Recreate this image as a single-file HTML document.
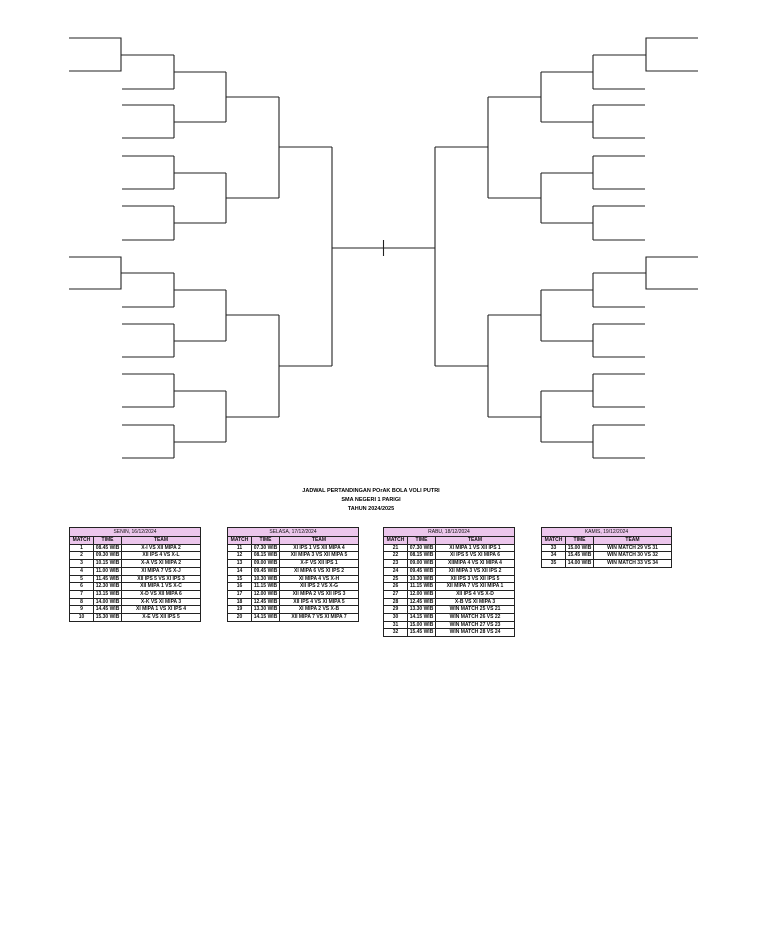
<!DOCTYPE html>
<html><head><meta charset="utf-8"><style>
html,body{margin:0;padding:0;background:#fff;width:768px;height:932px;overflow:hidden;position:relative;font-family:"Liberation Sans",sans-serif;}
svg{position:absolute;left:0;top:0}
.t{position:absolute;border-collapse:collapse;font-size:5px;color:#111;table-layout:fixed;font-weight:bold}
.t td{border:0.8px solid #222;padding:0;height:6.7px;line-height:6.7px;text-align:center;white-space:nowrap;overflow:hidden}
.t tr.h td{background:#ecc6ec;font-weight:bold}
.t tr.ti td{background:#ecc6ec;height:8px;line-height:8px;font-weight:normal}
.t td.tm{text-align:center}
.title{position:absolute;left:0;width:742px;text-align:center;font-size:5.5px;font-weight:bold;line-height:9px;top:487px}
</style></head><body>
<svg width="768" height="932" stroke="#222" stroke-width="1.1" fill="none">
<g id="L">
<path d="M69 38H121V71H69M121 55H174M122 89H174M122 105H174M122 138H174M122 156H174M122 189H174M122 206H174M122 240H174"/>
<path d="M174 55V89M174 105V138M174 156V189M174 206V240M174 72H226M174 122H226M174 173H226M174 223H226M226 72V122M226 173V223M226 97H279M226 198H279M279 97V198M279 147H332M332 147V366M332 248H383"/>
<path d="M69 257H121V289H69M121 273H174M122 307H174M122 324H174M122 357H174M122 374H174M122 407H174M122 425H174M122 458H174"/>
<path d="M174 273V307M174 324V357M174 374V407M174 425V458M174 290H226M174 341H226M174 391H226M174 442H226M226 290V341M226 391V442M226 315H279M226 417H279M279 315V417M279 366H332"/>
</g>
<use href="#L" transform="translate(767,0) scale(-1,1)"/>
<path d="M383.5 240V256"/>
</svg>
<div class="title">JADWAL PERTANDINGAN POrAK BOLA VOLI PUTRI<br>SMA NEGERI 1 PARIGI<br>TAHUN 2024/2025</div>

<table class="t" style="left:69px;top:527px;width:132px">
<colgroup><col style="width:24px"><col style="width:28px"><col></colgroup>
<tr class="ti"><td colspan="3">SENIN, 16/12/2024</td></tr>
<tr class="h"><td>MATCH</td><td>TIME</td><td>TEAM</td></tr>
<tr><td>1</td><td class="tm">08.45 WIB</td><td>X-I VS XII MIPA 2</td></tr>
<tr><td>2</td><td class="tm">09.30 WIB</td><td>XII IPS 4 VS X-L</td></tr>
<tr><td>3</td><td class="tm">10.15 WIB</td><td>X-A VS XI MIPA 2</td></tr>
<tr><td>4</td><td class="tm">11.00 WIB</td><td>XI MIPA 7 VS X-J</td></tr>
<tr><td>5</td><td class="tm">11.45 WIB</td><td>XII IPS 5 VS XI IPS 3</td></tr>
<tr><td>6</td><td class="tm">12.30 WIB</td><td>XII MIPA 1 VS X-C</td></tr>
<tr><td>7</td><td class="tm">13.15 WIB</td><td>X-D VS XII MIPA 6</td></tr>
<tr><td>8</td><td class="tm">14.00 WIB</td><td>X-K VS XI MIPA 3</td></tr>
<tr><td>9</td><td class="tm">14.45 WIB</td><td>XI MIPA 1 VS XI IPS 4</td></tr>
<tr><td>10</td><td class="tm">15.30 WIB</td><td>X-E VS XII IPS 5</td></tr>
</table>

<table class="t" style="left:227px;top:527px;width:132px">
<colgroup><col style="width:24px"><col style="width:28px"><col></colgroup>
<tr class="ti"><td colspan="3">SELASA, 17/12/2024</td></tr>
<tr class="h"><td>MATCH</td><td>TIME</td><td>TEAM</td></tr>
<tr><td>11</td><td class="tm">07.30 WIB</td><td>XI IPS 1 VS XII MIPA 4</td></tr>
<tr><td>12</td><td class="tm">08.15 WIB</td><td>XII MIPA 3 VS XII MIPA 5</td></tr>
<tr><td>13</td><td class="tm">09.00 WIB</td><td>X-F VS XII IPS 1</td></tr>
<tr><td>14</td><td class="tm">09.45 WIB</td><td>XI MIPA 6 VS XI IPS 2</td></tr>
<tr><td>15</td><td class="tm">10.30 WIB</td><td>XI MIPA 4 VS X-H</td></tr>
<tr><td>16</td><td class="tm">11.15 WIB</td><td>XII IPS 2 VS X-G</td></tr>
<tr><td>17</td><td class="tm">12.00 WIB</td><td>XII MIPA 2 VS XII IPS 3</td></tr>
<tr><td>18</td><td class="tm">12.45 WIB</td><td>XII IPS 4 VS XI MIPA 5</td></tr>
<tr><td>19</td><td class="tm">13.30 WIB</td><td>XI MIPA 2 VS X-B</td></tr>
<tr><td>20</td><td class="tm">14.15 WIB</td><td>XII MIPA 7 VS XI MIPA 7</td></tr>
</table>

<table class="t" style="left:383px;top:527px;width:132px">
<colgroup><col style="width:24px"><col style="width:28px"><col></colgroup>
<tr class="ti"><td colspan="3">RABU, 18/12/2024</td></tr>
<tr class="h"><td>MATCH</td><td>TIME</td><td>TEAM</td></tr>
<tr><td>21</td><td class="tm">07.30 WIB</td><td>XI MIPA 1 VS XII IPS 1</td></tr>
<tr><td>22</td><td class="tm">08.15 WIB</td><td>XI IPS 5 VS XI MIPA 6</td></tr>
<tr><td>23</td><td class="tm">09.00 WIB</td><td>XIIMIPA 4 VS XI MIPA 4</td></tr>
<tr><td>24</td><td class="tm">09.45 WIB</td><td>XII MIPA 3 VS XII IPS 2</td></tr>
<tr><td>25</td><td class="tm">10.30 WIB</td><td>XII IPS 3 VS XII IPS 5</td></tr>
<tr><td>26</td><td class="tm">11.15 WIB</td><td>XII MIPA 7 VS XII MIPA 1</td></tr>
<tr><td>27</td><td class="tm">12.00 WIB</td><td>XII IPS 4 VS X-D</td></tr>
<tr><td>28</td><td class="tm">12.45 WIB</td><td>X-B VS XI MIPA 3</td></tr>
<tr><td>29</td><td class="tm">13.30 WIB</td><td>WIN MATCH 25 VS 21</td></tr>
<tr><td>30</td><td class="tm">14.15 WIB</td><td>WIN MATCH 26 VS 22</td></tr>
<tr><td>31</td><td class="tm">15.00 WIB</td><td>WIN MATCH 27 VS 23</td></tr>
<tr><td>32</td><td class="tm">15.45 WIB</td><td>WIN MATCH 28 VS 24</td></tr>
</table>

<table class="t" style="left:541px;top:527px;width:131px">
<colgroup><col style="width:24px"><col style="width:28px"><col></colgroup>
<tr class="ti"><td colspan="3">KAMIS, 19/12/2024</td></tr>
<tr class="h"><td>MATCH</td><td>TIME</td><td>TEAM</td></tr>
<tr><td>33</td><td class="tm">15.00 WIB</td><td>WIN MATCH 29 VS 31</td></tr>
<tr><td>34</td><td class="tm">15.45 WIB</td><td>WIN MATCH 30 VS 32</td></tr>
<tr><td>35</td><td class="tm">14.00 WIB</td><td>WIN MATCH 33 VS 34</td></tr>
</table>
</body></html>
